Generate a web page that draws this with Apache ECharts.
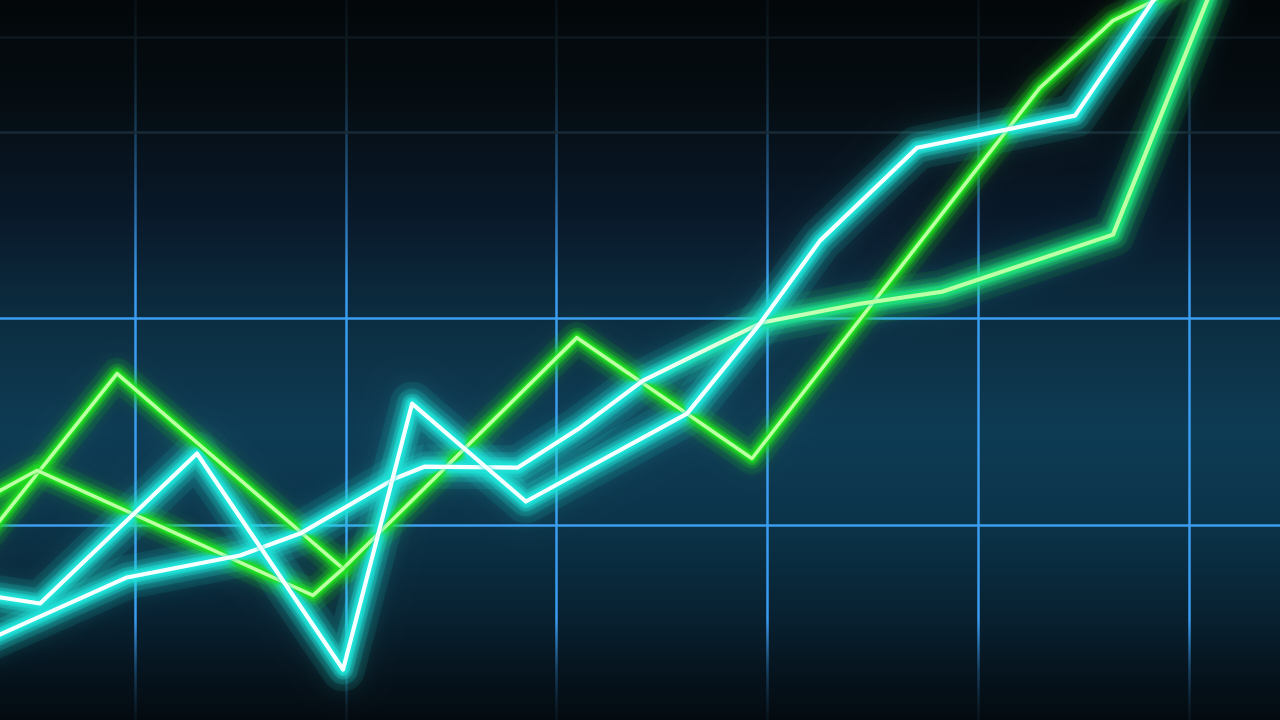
<!DOCTYPE html>
<html>
<head>
<meta charset="utf-8">
<script src="https://cdn.jsdelivr.net/npm/echarts@6/dist/echarts.min.js"></script>
<style>
html,body{margin:0;padding:0;background:#04080b;overflow:hidden}
#chart{width:1280px;height:720px}
</style>
</head>
<body>
<div id="chart"></div>
<script>
// ---- data (x: period index, y: value) ----
const verticalGridX = [0, 1, 2, 3, 4, 5];
const brightGridY = [10, 20];
const faintGridY = [29, 33.6];

const greenA = [[-0.735, 9.03], [-0.085, 17.34], [0.987, 7.92], [2.096, 19.08], [2.926, 13.24], [4.292, 31.16], [4.638, 34.40], [4.814, 35.27], [5.003, 36.33]];
const greenB = [[-0.735, 11.16], [-0.465, 12.66], [0.844, 6.62], [0.987, 7.92]];
const cyanA = [[-0.735, 6.67], [-0.450, 6.23], [0.294, 13.48], [0.987, 3.04], [1.314, 15.89], [1.854, 11.16], [2.618, 15.41], [2.964, 19.76], [3.249, 23.77], [3.709, 28.26], [4.458, 29.81], [4.828, 35.36], [4.932, 36.81]];
const cyanGreen = [[-0.735, 4.30], [-0.038, 7.49], [0.498, 8.55], [0.783, 9.61], [1.233, 12.27], [1.375, 12.85], [1.816, 12.80], [2.111, 14.73], [2.409, 17.00], [2.727, 18.60], [2.974, 19.81], [3.438, 20.72], [3.827, 21.30], [4.638, 24.06], [5.084, 35.36], [5.122, 36.57]];

// ---- styles ----
const G = echarts.graphic;
const GREEN_CORE = '#bcffa4';
const CYAN_CORE = '#f6ffff';

function hGrad(c1, c2) {
  return new G.LinearGradient(0, 0, 1280, 0, [
    {offset: 0, color: c1}, {offset: 0.5, color: c1},
    {offset: 0.66, color: c2}, {offset: 1, color: c2}], true);
}
const cyanA_ = a => 'rgba(30,226,216,' + a + ')';
const greenA_ = a => 'rgba(30,224,30,' + a + ')';

const vGridColor = new G.LinearGradient(0, 0, 0, 720, [
  {offset: 0, color: 'rgba(40,80,100,0.12)'},
  {offset: 0.1, color: 'rgba(40,90,120,0.28)'},
  {offset: 0.25, color: 'rgba(48,130,200,0.6)'},
  {offset: 0.4, color: '#3a9cf0'},
  {offset: 0.86, color: '#3a9cf0'},
  {offset: 0.93, color: 'rgba(50,130,200,0.4)'},
  {offset: 1, color: 'rgba(40,80,110,0.12)'}], true);

function lineSeries(data, color, width, blur, shadow, z) {
  return {
    type: 'line', data: data, symbol: 'none', silent: true, z: z,
    animation: false, clip: true,
    lineStyle: {color: color, width: width, shadowBlur: blur, shadowColor: shadow, cap: 'round', join: 'round'}
  };
}

// [width, alpha, blur]
const cyanLayers = [[44, 0.09, 22], [30, 0.15, 14], [20, 0.25, 10], [13, 0.45, 6], [8, 0.8, 4]];
const greenLayers = [[32, 0.09, 14], [20, 0.16, 10], [13, 0.32, 6], [7, 0.75, 3]];

const series = [{
  type: 'line', data: [], silent: true, z: 1, animation: false,
  markLine: {
    silent: true, z: 1, symbol: ['none', 'none'], label: {show: false}, animation: false,
    data: verticalGridX.map(v => ({xAxis: v, lineStyle: {color: vGridColor, width: 2.5, type: 'solid'}}))
      .concat(brightGridY.map(v => ({yAxis: v, lineStyle: {color: '#3b9ef0', width: 2.5, type: 'solid'}})))
      .concat([{yAxis: faintGridY[0], lineStyle: {color: '#182a34', width: 2.5, type: 'solid'}},
               {yAxis: faintGridY[1], lineStyle: {color: '#0e181f', width: 2.5, type: 'solid'}}])
  }
}];
cyanLayers.forEach(([w, a, b], i) => {
  series.push(lineSeries(cyanA, cyanA_(a), w, b, cyanA_(1), 2 + i));
  series.push(lineSeries(cyanGreen, hGrad(cyanA_(a), greenA_(a)), w, b, cyanA_(1), 2 + i));
});
greenLayers.forEach(([w, a, b], i) => {
  series.push(lineSeries(greenA, greenA_(a), w, b, greenA_(1), 2 + i));
  series.push(lineSeries(greenB, greenA_(a), w, b, greenA_(1), 2 + i));
});
series.push(lineSeries(greenA, GREEN_CORE, 3.6, 3, greenA_(1), 10));
series.push(lineSeries(greenB, GREEN_CORE, 3.6, 3, greenA_(1), 10));
series.push(lineSeries(cyanGreen, hGrad(CYAN_CORE, GREEN_CORE), 4.2, 4, cyanA_(1), 11));
series.push(lineSeries(cyanA, CYAN_CORE, 4.2, 4, cyanA_(1), 11));

const chart = echarts.init(document.getElementById('chart'), null, {renderer: 'canvas'});
chart.setOption({
  animation: false,
  backgroundColor: 'transparent',
  graphic: [{
    type: 'rect', z: -100, silent: true,
    shape: {x: 0, y: 0, width: 1280, height: 720},
    style: {fill: new G.LinearGradient(0, 0, 0, 1, [
      {offset: 0, color: '#03070a'},
      {offset: 0.14, color: '#050d12'},
      {offset: 0.3, color: '#09192a'},
      {offset: 0.45, color: '#0c2e42'},
      {offset: 0.6, color: '#0d3b54'},
      {offset: 0.72, color: '#0b344a'},
      {offset: 0.85, color: '#082232'},
      {offset: 0.95, color: '#05111a'},
      {offset: 1, color: '#040b10'}])}
  }],
  grid: {left: 0, right: 0, top: 0, bottom: 0},
  xAxis: {type: 'value', min: -0.64, max: 5.43, show: false, splitLine: {show: false}},
  yAxis: {type: 'value', min: 0.6, max: 35.4, show: false, splitLine: {show: false}},
  series: series
});
</script>
</body>
</html>
